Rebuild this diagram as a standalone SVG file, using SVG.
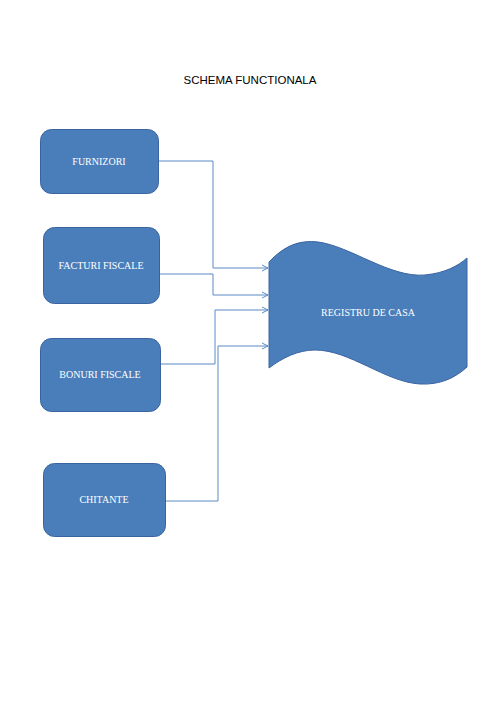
<svg xmlns="http://www.w3.org/2000/svg" width="500" height="707" viewBox="0 0 500 707">
<style>
.box{fill:#4a7ebb;stroke:#3a64a0;stroke-width:1}
.lbl{font-family:"Liberation Serif","Times New Roman",serif;font-size:10px;fill:#ffffff;text-anchor:middle}
.conn{fill:none;stroke:#5b8ac4;stroke-width:1}
.title{font-family:"Liberation Sans",Arial,sans-serif;font-size:11.5px;fill:#000000;text-anchor:middle}
</style>
<defs>
<marker id="arr" viewBox="0 0 8 8" refX="7" refY="4" markerWidth="8" markerHeight="8" markerUnits="userSpaceOnUse" orient="auto">
<path d="M1,1 L7,4 L1,7" fill="none" stroke="#5b8ac4" stroke-width="1"/>
</marker>
</defs>
<rect width="500" height="707" fill="#ffffff"/>
<text class="title" x="250" y="84">SCHEMA FUNCTIONALA</text>
<g id="connectors">
<path class="conn" d="M158,161 H213 V268 H268" marker-end="url(#arr)"/>
<path class="conn" d="M159,274 H213 V295 H268" marker-end="url(#arr)"/>
<path class="conn" d="M161,364 H215 V310 H268" marker-end="url(#arr)"/>
<path class="conn" d="M166,501 H218 V346 H268" marker-end="url(#arr)"/>
</g>
<g id="furnizori">
<rect class="box" x="40.5" y="129.5" width="118" height="64" rx="11"/>
<text class="lbl" x="99" y="165">FURNIZORI</text>
</g>
<g id="facturi">
<rect class="box" x="43.5" y="227.5" width="116" height="76" rx="11"/>
<text class="lbl" x="101" y="269">FACTURI FISCALE</text>
</g>
<g id="bonuri">
<rect class="box" x="40.5" y="338.5" width="120" height="73" rx="11"/>
<text class="lbl" x="100" y="378">BONURI FISCALE</text>
</g>
<g id="chitante">
<rect class="box" x="43.5" y="463.5" width="122" height="73" rx="11"/>
<text class="lbl" x="104" y="503">CHITANTE</text>
</g>
<g id="registru">
<path class="box" d="M269,262 C285,245 300,240 318,242 C350,246 390,278 425,275 C445,273 458,266 467,258 V367 C455,378 440,385 420,384 C385,382 350,350 315,350 C298,350 282,358 269,368 Z"/>
<text class="lbl" x="368" y="316">REGISTRU DE CASA</text>
</g>
</svg>
